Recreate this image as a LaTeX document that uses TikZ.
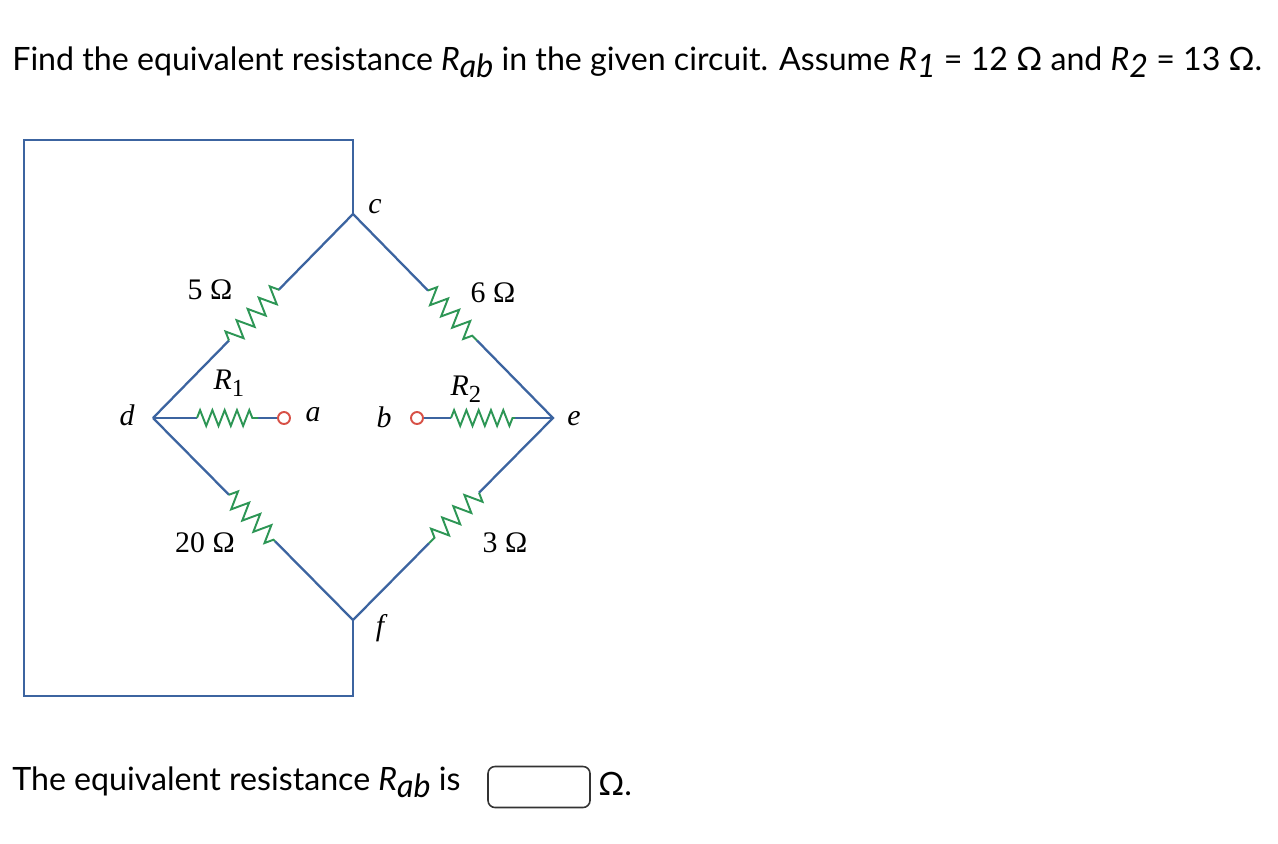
\documentclass[tikz,border=0pt]{standalone}
\usepackage{fontspec}
\setmainfont{Lato}
\newfontfamily\serfont{Liberation Serif}
\usetikzlibrary{calc,decorations.pathmorphing}
\definecolor{wire}{RGB}{60,100,160}
\definecolor{resg}{RGB}{45,150,85}
\definecolor{term}{RGB}{215,80,70}
\newcommand{\Rsub}[2]{{\itshape #1\raisebox{-0.45ex}{#2}}}
\tikzset{
  wirel/.style={draw=wire,line width=1.3pt},
  resl/.style={draw=resg,line width=1.1pt,decorate,decoration={zigzag,segment length=9pt,amplitude=5pt}},
  lbl/.style={font=\serfont\fontsize{17}{19}\selectfont,inner sep=1pt},
  ilbl/.style={font=\serfont\itshape\fontsize{17}{19}\selectfont,inner sep=1pt},
  txt/.style={font=\fontsize{18.3}{21}\selectfont,inner sep=0pt,anchor=west}
}
\begin{document}
\begin{tikzpicture}[x=0.02cm,y=0.02cm]
\useasboundingbox (0,0) rectangle (1278,-843);
\node[txt] (q) at (12,-62) {Find the equivalent resistance \Rsub{R}{ab} in the given circuit. Assume \Rsub{R}{1} = 12 Ω and \Rsub{R}{2} = 13 Ω.};
\node[txt] (ans) at (12,-782) {The equivalent resistance \Rsub{R}{ab} is};
\node[draw=black!80,line width=0.9pt,rounded corners=4pt,minimum width=102*0.02cm,minimum height=41*0.02cm,inner sep=0pt] (box) at (539,-787) {};
\node[txt] (om) at (598,-784) {Ω.};

\coordinate (c) at (353,-214);
\coordinate (d) at (153,-418);
\coordinate (e) at (553,-418);
\coordinate (f) at (353,-620);
\coordinate (tl) at (24,-140);
\coordinate (tr) at (353,-140);
\coordinate (bl) at (24,-696);
\coordinate (br) at (353,-696);
\draw[wirel] (c) -- (tr) -- (tl) -- (bl) -- (br) -- (f);

\coordinate (r5a) at ($(d)!0.38!(c)$); \coordinate (r5b) at ($(d)!0.63!(c)$);
\coordinate (r6a) at ($(c)!0.375!(e)$); \coordinate (r6b) at ($(c)!0.62!(e)$);
\coordinate (r20a) at ($(d)!0.38!(f)$); \coordinate (r20b) at ($(d)!0.61!(f)$);
\coordinate (r3a) at ($(e)!0.37!(f)$); \coordinate (r3b) at ($(e)!0.62!(f)$);
\draw[wirel] (d) -- (r5a) (r5b) -- (c) -- (r6a) (r6b) -- (e) -- (r3a) (r3b) -- (f) -- (r20b) (r20a) -- (d);
\draw[resl] (r5a) -- (r5b);
\draw[resl] (r6a) -- (r6b);
\draw[resl] (r20a) -- (r20b);
\draw[resl] (r3a) -- (r3b);

\node[circle,draw=term,line width=1.1pt,minimum size=12*0.02cm,inner sep=0pt] (a) at (284,-418) {};
\node[circle,draw=term,line width=1.1pt,minimum size=12*0.02cm,inner sep=0pt] (b) at (417,-418) {};
\coordinate (r1a) at (197,-418); \coordinate (r1b) at (258,-418);
\coordinate (r2a) at (451,-418); \coordinate (r2b) at (515,-418);
\draw[wirel,line width=1pt] (d) -- (r1a) (r1b) -- (a.west) (b.east) -- (r2a) (r2b) -- (e);
\draw[resl,decoration={zigzag,segment length=7pt,amplitude=4.5pt}] (r1a) -- (r1b);
\draw[resl,decoration={zigzag,segment length=7pt,amplitude=4.5pt}] (r2a) -- (r2b);

\node[lbl] (l5) at (210,-290) {5 Ω};
\node[lbl] (l6) at (493,-293) {6 Ω};
\node[lbl] (l20) at (205,-543) {20 Ω};
\node[lbl] (l3) at (505,-543) {3 Ω};
\node[ilbl] (lr1) at (229,-383) {R\raisebox{-0.55ex}{\upshape\fontsize{14}{16}\selectfont 1}};
\node[ilbl] (lr2) at (466,-389) {R\raisebox{-0.55ex}{\upshape\fontsize{14}{16}\selectfont 2}};
\node[ilbl] (la) at (313,-415) {a};
\node[ilbl] (lb) at (384,-417) {b};
\node[ilbl] (lc) at (375,-207) {c};
\node[ilbl] (ld) at (127,-415) {d};
\node[ilbl] (le) at (574,-419) {e};
\node[ilbl] (lf) at (380,-628) {f};
\end{tikzpicture}
\end{document}
